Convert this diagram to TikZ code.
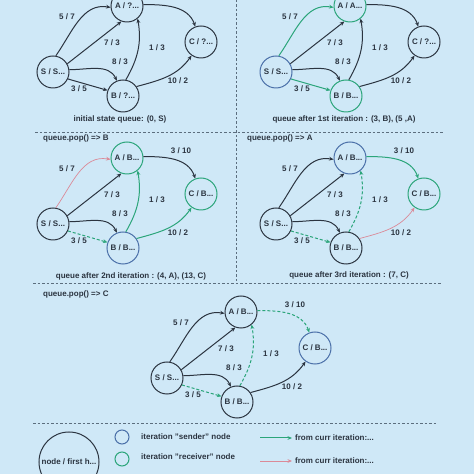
\documentclass[tikz,border=0pt]{standalone}
\usepackage{fontspec}
\setmainfont{Liberation Sans}
\usetikzlibrary{arrows.meta}

\definecolor{bgblue}{HTML}{CFE8F7}
\definecolor{ink}{HTML}{2B3440}
\definecolor{sendblue}{HTML}{4A6FA8}
\definecolor{recvgreen}{HTML}{2BA57A}
\definecolor{oldred}{HTML}{DB8A98}
\definecolor{sepgray}{HTML}{5C6E7E}

\begin{document}
\begin{tikzpicture}[x=1pt, y=1pt, >={Stealth[length=4.5pt,width=3.8pt]},
  font=\fontsize{8}{9.5}\selectfont\bfseries,
  vtx/.style={circle, draw=ink, line width=1pt, minimum size=32pt, inner sep=0pt, text=ink},
  sendr/.style={draw=sendblue},
  recv/.style={draw=recvgreen},
  link/.style={->, ink, line width=1pt},
  cur/.style={->, recvgreen, line width=1pt},
  prev/.style={->, recvgreen, line width=1pt, dash pattern=on 3pt off 2pt},
  old/.style={->, oldred, line width=0.7pt},
  lbl/.style={text=ink, inner sep=1pt},
  divider/.style={sepgray, line width=0.8pt, dash pattern=on 2.5pt off 2pt}]

\useasboundingbox (0,0) rectangle (474,474);
\fill[bgblue] (0,0) rectangle (474,474);

\draw[divider] (35,342) -- (443,342);
\draw[divider] (236,474) -- (236,191);
\draw[divider] (33,191) -- (441,191);
\draw[divider] (33,51) -- (437,51);

\begin{scope}
\node[vtx] (S1) at (53,402) {S / S...};
\node[vtx] (A1) at (127,468) {A / ?...};
\node[vtx] (B1) at (123,378) {B / ?...};
\node[vtx] (C1) at (201,432) {C / ?...};
\draw[link] (S1.80) to[out=55,in=170] (A1.185);
\draw[link] (S1.30) -- (A1.250);
\draw[link] (S1.8) to[out=0,in=115] (B1.112);
\draw[link] (S1.-25) -- (B1.160);
\draw[link] (B1.80) to[out=60,in=-80] (A1.-50);
\draw[link] (B1.35) to[out=15,in=-125] (C1.235);
\draw[link] (A1.5) to[out=0,in=110] (C1.110);
\node[lbl] at (67,457) {5 / 7};
\node[lbl] at (112,431) {7 / 3};
\node[lbl] at (157,426) {1 / 3};
\node[lbl] at (120,412) {8 / 3};
\node[lbl] at (79,385) {3 / 5};
\node[lbl] at (178,393) {10 / 2};
\node[lbl] at (120,355) {initial state queue: (0, S)};
\end{scope}

\begin{scope}[shift={(223,0)}]
\node[vtx, sendr] (S2) at (53,402) {S / S...};
\node[vtx, recv] (A2) at (127,468) {A / A...};
\node[vtx, recv] (B2) at (123,378) {B / B...};
\node[vtx] (C2) at (201,432) {C / ?...};
\draw[cur] (S2.80) to[out=55,in=170] (A2.185);
\draw[link] (S2.30) -- (A2.250);
\draw[link] (S2.8) to[out=0,in=115] (B2.112);
\draw[cur] (S2.-25) -- (B2.160);
\draw[link] (B2.80) to[out=60,in=-80] (A2.-50);
\draw[link] (B2.35) to[out=15,in=-125] (C2.235);
\draw[link] (A2.5) to[out=0,in=110] (C2.110);
\node[lbl] at (67,457) {5 / 7};
\node[lbl] at (112,431) {7 / 3};
\node[lbl] at (157,426) {1 / 3};
\node[lbl] at (120,412) {8 / 3};
\node[lbl] at (79,385) {3 / 5};
\node[lbl] at (178,393) {10 / 2};
\node[lbl] at (121,355) {queue after 1st iteration : (3, B), (5 ,A)};
\end{scope}

\node[lbl, anchor=west] (pop3) at (42,336) {queue.pop() => B};
\begin{scope}[shift={(0,-152)}]
\node[vtx] (S3) at (53,402) {S / S...};
\node[vtx, recv] (A3) at (127,468) {A / B...};
\node[vtx, sendr] (B3) at (123,378) {B / B...};
\node[vtx, recv] (C3) at (201,432) {C / B...};
\draw[old] (S3.80) to[out=55,in=170] (A3.185);
\draw[link] (S3.30) -- (A3.250);
\draw[link] (S3.8) to[out=0,in=115] (B3.112);
\draw[prev] (S3.-25) -- (B3.160);
\draw[cur] (B3.80) to[out=60,in=-80] (A3.-50);
\draw[cur] (B3.35) to[out=15,in=-125] (C3.235);
\draw[link] (A3.5) to[out=0,in=110] (C3.110);
\node[lbl] at (67,457) {5 / 7};
\node[lbl] at (112,431) {7 / 3};
\node[lbl] at (157,426) {1 / 3};
\node[lbl] at (120,412) {8 / 3};
\node[lbl] at (79,385) {3 / 5};
\node[lbl] at (178,393) {10 / 2};
\node[lbl] at (181,475) {3 / 10};
\node[lbl] at (131,350) {queue after 2nd iteration : (4, A), (13, C)};
\end{scope}

\node[lbl, anchor=west] (pop4) at (246,336) {queue.pop() => A};
\begin{scope}[shift={(223,-152)}]
\node[vtx] (S4) at (53,402) {S / S...};
\node[vtx, sendr] (A4) at (127,468) {A / B...};
\node[vtx] (B4) at (123,378) {B / B...};
\node[vtx, recv] (C4) at (201,432) {C / B...};
\draw[link] (S4.80) to[out=55,in=170] (A4.185);
\draw[link] (S4.30) -- (A4.250);
\draw[link] (S4.8) to[out=0,in=115] (B4.112);
\draw[prev] (S4.-25) -- (B4.160);
\draw[prev] (B4.80) to[out=60,in=-80] (A4.-50);
\draw[old] (B4.35) to[out=15,in=-125] (C4.235);
\draw[cur] (A4.5) to[out=0,in=110] (C4.110);
\node[lbl] at (67,457) {5 / 7};
\node[lbl] at (112,431) {7 / 3};
\node[lbl] at (157,426) {1 / 3};
\node[lbl] at (120,412) {8 / 3};
\node[lbl] at (79,385) {3 / 5};
\node[lbl] at (178,393) {10 / 2};
\node[lbl] at (181,475) {3 / 10};
\node[lbl] at (126,351) {queue after 3rd iteration : (7, C)};
\end{scope}

\node[lbl, anchor=west] (pop5) at (42,180) {queue.pop() => C};
\begin{scope}[shift={(114,-306)}]
\node[vtx] (S5) at (53,402) {S / S...};
\node[vtx] (A5) at (127,468) {A / B...};
\node[vtx] (B5) at (123,378) {B / B...};
\node[vtx, sendr] (C5) at (201,432) {C / B...};
\draw[link] (S5.80) to[out=55,in=170] (A5.185);
\draw[link] (S5.30) -- (A5.250);
\draw[link] (S5.8) to[out=0,in=115] (B5.112);
\draw[prev] (S5.-25) -- (B5.160);
\draw[prev] (B5.80) to[out=60,in=-80] (A5.-50);
\draw[link] (B5.35) to[out=15,in=-125] (C5.235);
\draw[prev] (A5.5) to[out=0,in=110] (C5.110);
\node[lbl] at (67,457) {5 / 7};
\node[lbl] at (112,431) {7 / 3};
\node[lbl] at (157,426) {1 / 3};
\node[lbl] at (120,412) {8 / 3};
\node[lbl] at (79,385) {3 / 5};
\node[lbl] at (178,393) {10 / 2};
\node[lbl] at (181,475) {3 / 10};
\end{scope}

\node[vtx, minimum size=60pt] (key) at (69,12) {node / first h...};
\node[vtx, sendr, minimum size=14pt] (keyS) at (122,37) {};
\node[vtx, recv, minimum size=14pt] (keyR) at (122,15) {};
\node[lbl, anchor=west] (keyStxt) at (140,37) {iteration "sender" node};
\node[lbl, anchor=west] (keyRtxt) at (140,17) {iteration "receiver" node};
\coordinate (g0) at (260,36);
\coordinate (g1) at (292,36);
\coordinate (r0) at (260,13);
\coordinate (r1) at (292,13);
\draw[cur] (g0) -- (g1);
\draw[old] (r0) -- (r1);
\node[lbl, anchor=west] (gtxt) at (294,36) {from curr iteration:...};
\node[lbl, anchor=west] (rtxt) at (294,13) {from curr iteration:...};

\end{tikzpicture}
\end{document}
